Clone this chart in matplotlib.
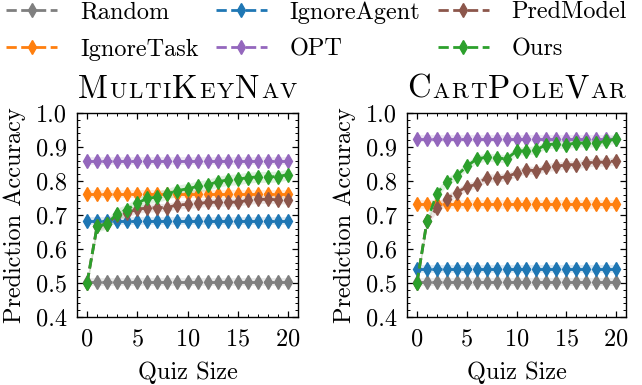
import matplotlib
matplotlib.use("Agg")
import matplotlib.pyplot as plt
from matplotlib.offsetbox import TextArea, HPacker, AnchoredOffsetbox
from matplotlib.ticker import MultipleLocator, FormatStrFormatter

plt.rcParams.update({
    "font.family": "serif",
    "font.serif": ["cmr10", "DejaVu Serif"],
    "mathtext.fontset": "cm",
    "axes.formatter.use_mathtext": True,
    "font.size": 17.5,
    "axes.linewidth": 1.0,
})

quiz = list(range(21))
series_names = ["Random", "IgnoreTask", "IgnoreAgent", "OPT", "PredModel", "Ours"]
colors = ["#7f7f7f", "#ff7f0e", "#1f77b4", "#9467bd", "#8c564b", "#2ca02c"]

# ---- MultiKeyNav ----
mk_random = [0.504] * 21
mk_ignoretask = [0.763] * 21
mk_ignoreagent = [0.682] * 21
mk_opt = [0.860] * 21
mk_predmodel = [0.500, 0.667, 0.674, 0.700, 0.705, 0.718, 0.720, 0.722, 0.722, 0.730, 0.731,
                0.734, 0.737, 0.738, 0.738, 0.738, 0.743, 0.746, 0.746, 0.745, 0.744]
mk_ours = [0.500, 0.667, 0.674, 0.704, 0.716, 0.735, 0.749, 0.753, 0.762, 0.772, 0.777,
           0.784, 0.788, 0.798, 0.803, 0.805, 0.810, 0.812, 0.812, 0.813, 0.819]
mk_std = [0.012, 0.012, 0.012, 0.012, 0.012, 0.016]

# ---- CartPoleVar ----
cp_random = [0.503] * 21
cp_ignoretask = [0.731] * 21
cp_ignoreagent = [0.542] * 21
cp_opt = [0.925] * 21
cp_predmodel = [0.500, 0.681, 0.721, 0.748, 0.766, 0.783, 0.790, 0.810, 0.808, 0.813, 0.823,
                0.833, 0.830, 0.840, 0.843, 0.848, 0.848, 0.853, 0.856, 0.855, 0.860]
cp_ours = [0.500, 0.681, 0.763, 0.798, 0.816, 0.843, 0.865, 0.870, 0.868, 0.865, 0.888,
           0.889, 0.892, 0.907, 0.909, 0.907, 0.912, 0.912, 0.912, 0.917, 0.924]
cp_std = [0.012, 0.012, 0.012, 0.010, 0.012, 0.012]

panels = [
    ("MultiKeyNav", [("M", "ULTI"), ("K", "EY"), ("N", "AV")],
     [mk_random, mk_ignoretask, mk_ignoreagent, mk_opt, mk_predmodel, mk_ours], mk_std),
    ("CartPoleVar", [("C", "ART"), ("P", "OLE"), ("V", "AR")],
     [cp_random, cp_ignoretask, cp_ignoreagent, cp_opt, cp_predmodel, cp_ours], cp_std),
]

fig = plt.figure(figsize=(6.42, 3.85), dpi=100)
W, H = 642, 385
axes_px = [(77, 113, 298, 317), (407, 113, 626, 317)]

handles = []
for (name, sc_parts, data, stds), (x0, y0, x1, y1) in zip(panels, axes_px):
    ax = fig.add_axes([x0 / W, 1 - y1 / H, (x1 - x0) / W, (y1 - y0) / H])
    hs = []
    for vals, sd, c, lab in zip(data, stds, colors, series_names):
        lo = [v - sd for v in vals]
        hi = [v + sd for v in vals]
        ax.fill_between(quiz, lo, hi, color=c, alpha=0.15, linewidth=0)
        h, = ax.plot(quiz, vals, linestyle="--", color=c, marker="d", markersize=7.5,
                     linewidth=2, label=lab)
        hs.append(h)
    handles = hs
    ax.set_xlim(-1, 21)
    ax.set_ylim(0.4, 1.0)
    ax.xaxis.set_major_locator(MultipleLocator(5))
    ax.xaxis.set_minor_locator(MultipleLocator(1))
    ax.yaxis.set_major_locator(MultipleLocator(0.1))
    ax.yaxis.set_minor_locator(MultipleLocator(0.02))
    ax.yaxis.set_major_formatter(FormatStrFormatter("%.1f"))
    ax.tick_params(which="both", direction="in", top=True, right=True, labelsize=17.5)
    ax.tick_params(which="major", length=4, width=0.9)
    ax.tick_params(which="minor", length=2, width=0.7)
    ax.tick_params(axis="x", which="major", pad=8)
    ax.tick_params(axis="y", which="major", pad=7)
    ax.set_xlabel("Quiz Size", fontsize=17.5, labelpad=8)
    ax.set_ylabel("Prediction Accuracy", fontsize=17.5, labelpad=7)

    kids = []
    for big, small in sc_parts:
        kids.append(TextArea(big, textprops=dict(fontsize=23.5)))
        for ch in small:
            kids.append(TextArea(ch, textprops=dict(fontsize=16.5)))
    pack = HPacker(children=kids, align="baseline", pad=0, sep=1.1)
    ab = AnchoredOffsetbox(loc="lower center", child=pack, pad=0, borderpad=0,
                           frameon=False, bbox_to_anchor=(0.5, 1.045),
                           bbox_transform=ax.transAxes)
    ax.add_artist(ab)

fig.legend(handles=handles, labels=series_names, ncol=3, loc="upper left",
           bbox_to_anchor=(6 / W, 1 - 1 / H), frameon=False, fontsize=17.5,
           handlelength=2.1, handletextpad=0.95, columnspacing=0.7,
           borderaxespad=0, borderpad=0, labelspacing=0.62)

fig.savefig("out.png", dpi=100)
